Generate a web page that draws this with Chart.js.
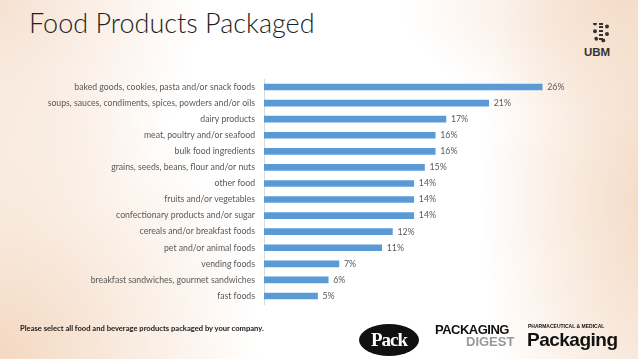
<!DOCTYPE html>
<html><head><meta charset="utf-8">
<script src="https://cdn.jsdelivr.net/npm/chart.js@4.4.1/dist/chart.umd.min.js"></script>
<style>
html,body{margin:0;padding:0;}
body{width:638px;height:359px;position:relative;overflow:hidden;
background:
 radial-gradient(ellipse 260px 300px at 0px 359px, rgba(243,214,190,0.95), rgba(243,214,190,0) 100%),
 radial-gradient(ellipse 200px 240px at 0px 0px, rgba(245,222,204,0.9), rgba(245,222,204,0) 100%),
 radial-gradient(ellipse 180px 380px at 660px 200px, rgba(243,214,190,0.95), rgba(243,214,190,0) 100%),
 radial-gradient(ellipse 220px 120px at 620px 0px, rgba(245,222,204,0.9), rgba(245,222,204,0) 100%),
 #ffffff;
font-family:Lato, "Liberation Sans", sans-serif;}
#title{position:absolute;left:29px;top:6px;font-size:27px;font-weight:300;color:#1f1f1f;font-family:Lato,"Open Sans",sans-serif;white-space:nowrap;}
#wrap{position:absolute;left:0;top:0;width:638px;height:359px;}
#foot{position:absolute;left:20px;top:323px;font-size:7.6px;font-weight:700;color:#1a1a1a;font-family:Lato,"Liberation Sans",sans-serif;white-space:nowrap;}
#ubm{position:absolute;left:584px;top:46px;font-size:11.5px;font-weight:700;color:#333;font-family:"Liberation Sans",sans-serif;}
#ubmicon{position:absolute;left:593px;top:23px;width:16px;height:20px;border:4px dotted #333;border-top:none;border-radius:0 0 9px 9px;box-sizing:border-box;}
#ubmicon2{position:absolute;left:599px;top:23px;width:4px;height:17px;border-left:2px dotted #333;border-right:2px dotted #333;box-sizing:border-box;}
#pack{position:absolute;left:359px;top:324px;width:60px;height:32px;border-radius:50%;background:#111;color:#fff;font:bold 19px "Liberation Serif",serif;text-align:center;line-height:32px;letter-spacing:-1px;}
#pd1{position:absolute;left:435px;top:322px;font:bold 13px "Liberation Sans Narrow","Liberation Sans",sans-serif;color:#111;letter-spacing:-0.5px;}
#pd2{position:absolute;left:466px;top:334px;font:bold 13px "Liberation Sans Narrow","Liberation Sans",sans-serif;color:#999;}
#pm1{position:absolute;left:528px;top:323px;font:bold 5px "Liberation Sans Narrow","Liberation Sans",sans-serif;color:#111;}
#pm2{position:absolute;left:527px;top:329px;font:bold 19px "Liberation Sans Narrow","Liberation Sans",sans-serif;color:#111;letter-spacing:-0.5px;}
</style></head>
<body>
<div id="title">Food Products Packaged</div>
<div id="ubmicon"></div><div id="ubmicon2"></div><div id="ubm">UBM</div>
<div id="wrap"><canvas id="c" width="638" height="359"></canvas></div>
<div id="foot">Please select all food and beverage products packaged by your company.</div>
<div id="pack">Pack</div>
<div id="pd1">PACKAGING</div><div id="pd2">DIGEST</div>
<div id="pm1">PHARMACEUTICAL &amp; MEDICAL</div><div id="pm2">Packaging</div>
<script>
const categories = [
 "baked goods, cookies, pasta and/or snack foods",
 "soups, sauces, condiments, spices, powders and/or oils",
 "dairy products",
 "meat, poultry and/or seafood",
 "bulk food ingredients",
 "grains, seeds, beans, flour and/or nuts",
 "other food",
 "fruits and/or vegetables",
 "confectionary products and/or sugar",
 "cereals and/or breakfast foods",
 "pet and/or animal foods",
 "vending foods",
 "breakfast sandwiches, gourmet sandwiches",
 "fast foods"
];
const percentages = [26,21,17,16,16,15,14,14,14,12,11,7,6,5];

const labelPlugin = {
 id:'vals',
 afterDatasetsDraw(chart){
  const ctx = chart.ctx;
  const meta = chart.getDatasetMeta(0);
  ctx.save();
  ctx.font = '8.8px Lato, "Liberation Sans", sans-serif';
  ctx.fillStyle = '#595959';
  ctx.textBaseline = 'middle';
  ctx.textAlign = 'left';
  meta.data.forEach((bar,i)=>{
   ctx.fillText(percentages[i]+'%', bar.x+5, bar.y);
  });
  ctx.restore();
 }
};

new Chart(document.getElementById('c'),{
 type:'bar',
 data:{labels:categories,datasets:[{data:percentages,backgroundColor:'#5B9BD5',barThickness:6}]},
 options:{
  indexAxis:'y',responsive:false,animation:false,
  layout:{padding:{left:0,top:79,right:53,bottom:55}},
  plugins:{legend:{display:false},tooltip:{enabled:false}},
  scales:{
   x:{display:false,min:0,max:30},
   y:{
    afterFit(s){s.width=264;},
    grid:{display:false,drawTicks:false},
    border:{display:true,color:'#d9d9d9',width:1},
    ticks:{padding:9,color:'#595959',font:{family:'Lato, "Liberation Sans", sans-serif',size:8.7}}
   }
  }
 },
 plugins:[labelPlugin]
});
</script>
</body></html>
